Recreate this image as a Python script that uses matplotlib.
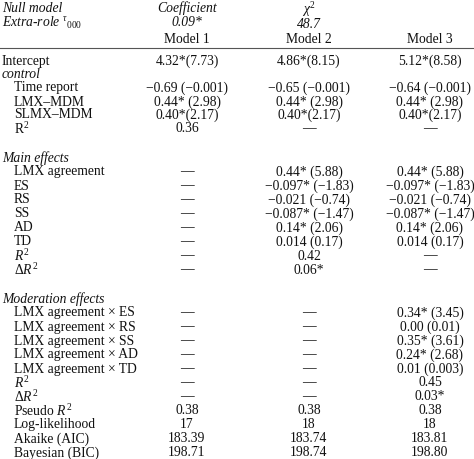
import matplotlib
matplotlib.use("Agg")
import matplotlib.pyplot as plt

W, H = 474, 460
fig = plt.figure(figsize=(W/100, H/100), dpi=100)
FONT = "Liberation Serif"
FS = 9.8

models = ["Model 1", "Model 2", "Model 3"]
col_x = [187, 309, 430]
D = "\u2014"

rows = [
    ("Intercept", 0, False, ["4.32*(7.73)", "4.86*(8.15)", "5.12*(8.58)"], 61),
    ("control", 0, True, None, 74),
    ("Time report", 1, False, ["\u22120.69 (\u22120.001)", "\u22120.65 (\u22120.001)", "\u22120.64 (\u22120.001)"], 88),
    ("LMX\u2013MDM", 1, False, ["0.44* (2.98)", "0.44* (2.98)", "0.44* (2.98)"], 102),
    ("SLMX\u2013MDM", 1, False, ["0.40*(2.17)", "0.40*(2.17)", "0.40*(2.17)"], 115),
    ("R$^2$", 1, False, ["0.36", D, D], 129),
    ("Main effects", 0, True, None, 158),
    ("LMX agreement", 1, False, [D, "0.44* (5.88)", "0.44* (5.88)"], 172),
    ("ES", 1, False, [D, "\u22120.097* (\u22121.83)", "\u22120.097* (\u22121.83)"], 186),
    ("RS", 1, False, [D, "\u22120.021 (\u22120.74)", "\u22120.021 (\u22120.74)"], 200),
    ("SS", 1, False, [D, "\u22120.087* (\u22121.47)", "\u22120.087* (\u22121.47)"], 214),
    ("AD", 1, False, [D, "0.14* (2.06)", "0.14* (2.06)"], 228),
    ("TD", 1, False, [D, "0.014 (0.17)", "0.014 (0.17)"], 242),
    ("$R^2$", 1, False, [D, "0.42", D], 256),
    ("$\\Delta R^2$", 1, False, [D, "0.06*", D], 270),
    ("Moderation effects", 0, True, None, 299),
    ("LMX agreement \u00d7 ES", 1, False, [D, D, "0.34* (3.45)"], 313),
    ("LMX agreement \u00d7 RS", 1, False, [D, D, "0.00 (0.01)"], 327),
    ("LMX agreement \u00d7 SS", 1, False, [D, D, "0.35* (3.61)"], 341),
    ("LMX agreement \u00d7 AD", 1, False, [D, D, "0.24* (2.68)"], 355),
    ("LMX agreement \u00d7 TD", 1, False, [D, D, "0.01 (0.003)"], 369),
    ("$R^2$", 1, False, [D, D, "0.45"], 383),
    ("$\\Delta R^2$", 1, False, [D, D, "0.03*"], 397),
    ("Pseudo $R^2$", 1, False, ["0.38", "0.38", "0.38"], 411),
    ("Log-likelihood", 1, False, ["17", "18", "18"], 425),
    ("Akaike (AIC)", 1, False, ["183.39", "183.74", "183.81"], 439),
    ("Bayesian (BIC)", 1, False, ["198.71", "198.74", "198.80"], 453),
]

plt.rcParams['mathtext.fontset'] = 'custom'
plt.rcParams['mathtext.rm'] = FONT
plt.rcParams['mathtext.it'] = FONT + ':italic'

def t(x, y, s, ha="left", style="normal"):
    fig.text(x/W, 1 - y/H, s, ha=ha, va="center", family=FONT, fontsize=FS,
             style=style, color="#111111")

t(2, 8, "Null model", style="italic")
t(2, 23, "Extra-role $^{\\tau}$$_{000}$", style="italic")
t(187, 8, "Coefficient", ha="center", style="italic")
t(187, 23, "0.09*", ha="center", style="italic")
t(309, 10, "$\\chi^2$", ha="center")
t(309, 24, "48.7", ha="center", style="italic")
for m, x in zip(models, col_x):
    t(x, 40, m, ha="center")
fig.add_artist(plt.Line2D([0, 1], [1 - 49/H, 1 - 49/H], color="#555555", lw=0.8))

for label, ind, it, vals, y in rows:
    t(2 + 12*ind, y, label, style="italic" if it else "normal")
    if vals:
        for v, x in zip(vals, col_x):
            t(x, y, v, ha="center")

fig.savefig("out.png", dpi=100, facecolor="white")
